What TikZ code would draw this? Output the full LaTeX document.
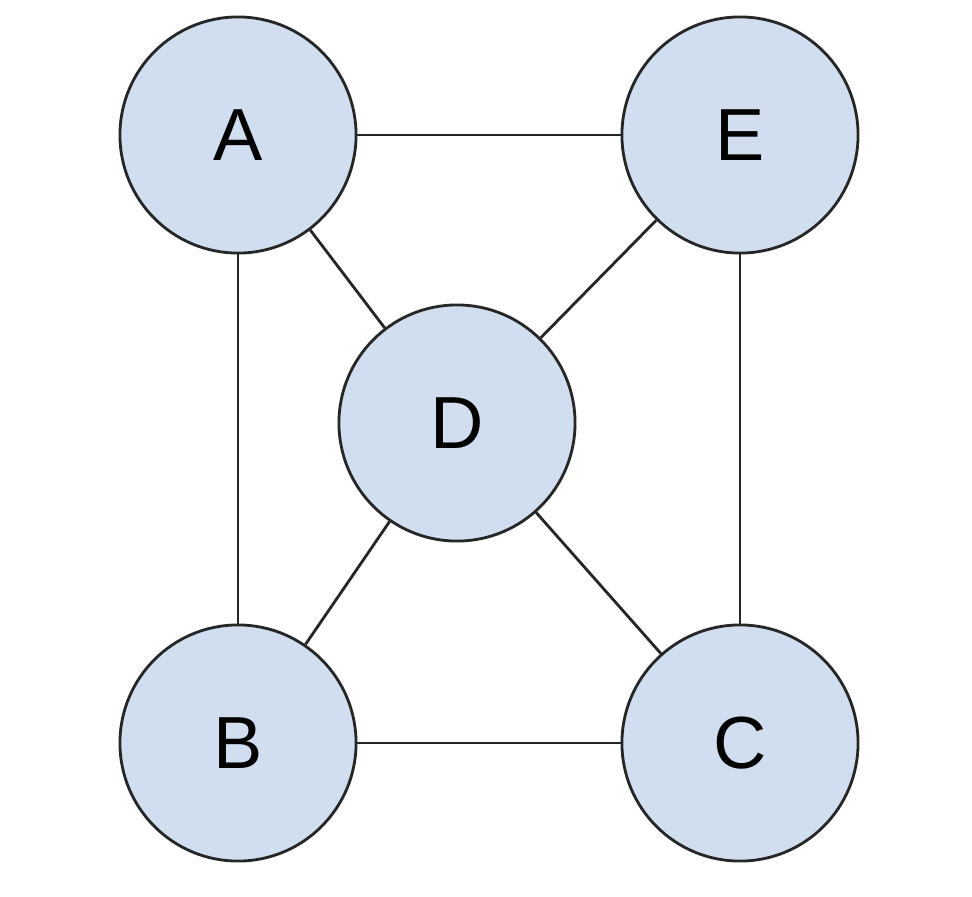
\documentclass[tikz,border=0pt]{standalone}
\usepackage{fontspec}
\setmainfont{Liberation Sans}
\begin{document}
\begin{tikzpicture}[x=0.01cm,y=-0.01cm,
  vtx/.style={circle,draw=black!85,line width=0.8pt,fill={rgb,255:red,208;green,222;blue,240},minimum size=2.36cm,inner sep=0pt,font=\fontsize{21}{24}\selectfont},
  edge/.style={draw=black!85,line width=0.8pt}]
\useasboundingbox[fill=white] (0,0) rectangle (972,896);
\node[vtx] (A) at (238,135) {A};
\node[vtx] (E) at (740,135) {E};
\node[vtx] (D) at (457,423) {D};
\node[vtx] (B) at (238,743) {B};
\node[vtx] (C) at (740,743) {C};
\foreach \u/\v in {A/E,A/B,E/C,B/C,A/D,E/D,B/D,C/D}
  \draw[edge] (\u) -- (\v);
\end{tikzpicture}
\end{document}
